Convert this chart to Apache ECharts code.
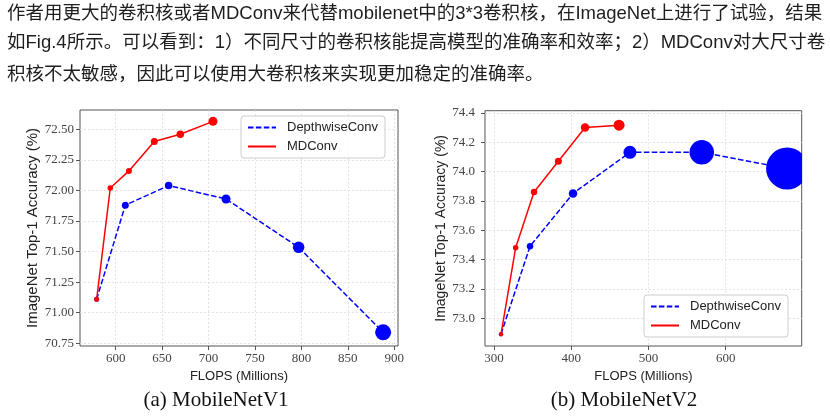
<!DOCTYPE html>
<html>
<head>
<meta charset="utf-8">
<script src="https://cdn.jsdelivr.net/npm/echarts@6/dist/echarts.min.js"></script>
<style>
html,body{margin:0;padding:0;background:#fff;}
#chart{width:830px;height:419px;}
</style>
</head>
<body>
<div id="chart"></div>
<script>
// ---- text ----
const introLines = [
  '作者用更大的卷积核或者MDConv来代替mobilenet中的3*3卷积核，在ImageNet上进行了试验，结果',
  '如Fig.4所示。可以看到：1）不同尺寸的卷积核能提高模型的准确率和效率；2）MDConv对大尺寸卷',
  '积核不太敏感，因此可以使用大卷积核来实现更加稳定的准确率。'
];
const captions = ['(a) MobileNetV1', '(b) MobileNetV2'];
const seriesNames = ['DepthwiseConv', 'MDConv'];
const xAxisName = 'FLOPS (Millions)';
const yAxisName = 'ImageNet Top-1 Accuracy (%)';

// ---- MobileNetV1 data ----
const v1DepthFlops = [579.5, 610.4, 657, 718.8, 797, 888];
const v1DepthAcc   = [71.11, 71.88, 72.04, 71.93, 71.535, 70.84];
const v1MdFlops    = [579.5, 594.2, 614.3, 641.6, 669.6, 704.8];
const v1MdAcc      = [71.11, 72.02, 72.16, 72.40, 72.46, 72.565];

// ---- MobileNetV2 data ----
const v2DepthFlops = [309, 346.6, 402.3, 476, 569, 679.5];
const v2DepthAcc   = [72.89, 73.49, 73.85, 74.13, 74.13, 74.02];
const v2MdFlops    = [309, 328, 351.8, 383.3, 417.9, 461.9];
const v2MdAcc      = [72.89, 73.48, 73.86, 74.07, 74.30, 74.315];

// ---- tick labels ----
const v1XTicks = [600, 650, 700, 750, 800, 850, 900];
const v1YTicks = [70.75, 71.0, 71.25, 71.5, 71.75, 72.0, 72.25, 72.5];
const v2XTicks = [300, 400, 500, 600];
const v2YTicks = [73.0, 73.2, 73.4, 73.6, 73.8, 74.0, 74.2, 74.4];

// ---- marker diameters (style) ----
const v1DepthSize = [5, 7, 7.5, 9, 11.5, 16];
const v1MdSize    = [5, 5.5, 6, 7, 7.5, 9];
const v2DepthSize = [4, 6.5, 8.5, 13, 24.5, 42];
const v2MdSize    = [4.5, 5.5, 6.5, 7, 8.5, 11];

const BLUE = '#0000ff', RED = '#ff0000';
const SANS = '"Liberation Sans", Arial, sans-serif';
const SERIF = '"Liberation Serif", "Times New Roman", serif';
const CJK = '"Liberation Sans", "Noto Sans CJK SC", sans-serif';

function pairs(xs, ys) { return xs.map((x, i) => [x, ys[i]]); }

function markerRenderer(sizes, color) {
  return function (params, api) {
    const p = api.coord([api.value(0), api.value(1)]);
    return {
      type: 'circle',
      shape: { cx: p[0], cy: p[1], r: sizes[params.dataIndex] / 2 },
      style: { fill: color }
    };
  };
}

function xAxisCfg(gi, min, max, ticks) {
  return {
    gridIndex: gi, type: 'value', min: min, max: max,
    axisLine: { show: false },
    axisTick: { show: true, length: 4, customValues: ticks, lineStyle: { color: '#555', width: 1 } },
    axisLabel: { customValues: ticks, margin: 6, fontFamily: SERIF, fontSize: 13, color: '#444',
      formatter: v => String(Math.round(v)) },
    splitLine: { show: true, lineStyle: { color: '#dcdcdc', width: 0.8, type: [2, 2] } },
    name: xAxisName, nameLocation: 'middle', nameGap: 21,
    nameTextStyle: { fontFamily: SANS, fontSize: 13, color: '#222' }
  };
}

function yAxisCfg(gi, min, max, ticks, dec, margin, nameGap, nameSize) {
  return {
    gridIndex: gi, type: 'value', min: min, max: max,
    axisLine: { show: false },
    axisTick: { show: true, length: 4, customValues: ticks, lineStyle: { color: '#555', width: 1 } },
    axisLabel: { customValues: ticks, margin: margin, fontFamily: SERIF, fontSize: 13, color: '#444',
      formatter: v => v.toFixed(dec) },
    splitLine: { show: true, lineStyle: { color: '#dcdcdc', width: 0.8, type: [2, 2] } },
    name: yAxisName, nameLocation: 'middle', nameGap: nameGap,
    nameTextStyle: { fontFamily: SANS, fontSize: nameSize, color: '#222' }
  };
}

function legendCfg(left, top) {
  return {
    orient: 'vertical', left: left, top: top,
    itemWidth: 28, itemHeight: 14, itemGap: 6,
    padding: [5, 7, 5, 6],
    borderColor: '#cccccc', borderWidth: 1, borderRadius: 3,
    backgroundColor: 'rgba(255,255,255,0.85)',
    selectedMode: false,
    itemStyle: { opacity: 0 },
    textStyle: { fontFamily: SANS, fontSize: 13, color: '#222', padding: [0, 0, 0, 6] },
    data: seriesNames
  };
}

function lineSeries(name, gi, data, color, dashed) {
  return {
    name: name, type: 'line', xAxisIndex: gi, yAxisIndex: gi,
    data: data, symbol: 'none', showSymbol: false,
    lineStyle: { color: color, width: 1.5, type: dashed ? [5.5, 2.4] : 'solid' },
    itemStyle: { color: color },
    z: 3, animation: false
  };
}

function markerSeries(name, gi, data, sizes, color, z) {
  return {
    name: name, type: 'custom', xAxisIndex: gi, yAxisIndex: gi,
    data: data, clip: true, encode: { x: 0, y: 1 },
    renderItem: markerRenderer(sizes, color),
    z: z, animation: false
  };
}

const chart = echarts.init(document.getElementById('chart'), null, { renderer: 'canvas' });

const graphics = introLines.map((t, i) => ({
  type: 'text', x: 7, y: [13.8, 43.3, 75][i],
  style: { text: t, font: '18.5px ' + CJK, fill: '#1e1e1e', verticalAlign: 'middle', align: 'left' }
}));
graphics.push({ type: 'text', x: 216, y: 400,
  style: { text: captions[0], font: '21px ' + SERIF, fill: '#111', align: 'center', verticalAlign: 'middle' } });
graphics.push({ type: 'text', x: 624, y: 400,
  style: { text: captions[1], font: '21px ' + SERIF, fill: '#111', align: 'center', verticalAlign: 'middle' } });

chart.setOption({
  animation: false,
  backgroundColor: '#fff',
  graphic: graphics,
  grid: [
    { left: 80, top: 110, width: 318, height: 236, show: true, borderColor: '#555', borderWidth: 1,
      backgroundColor: 'transparent', outerBoundsMode: 'none' },
    { left: 485, top: 110.7, width: 316.7, height: 235.3, show: true, borderColor: '#555', borderWidth: 1,
      backgroundColor: 'transparent', outerBoundsMode: 'none' }
  ],
  xAxis: [
    xAxisCfg(0, 561.6, 904, v1XTicks),
    xAxisCfg(1, 288.3, 698.4, v2XTicks)
  ],
  yAxis: [
    yAxisCfg(0, 70.728, 72.658, v1YTicks, 2, 6, 36, 15),
    yAxisCfg(1, 72.81, 74.414, v2YTicks, 1, 10, 30, 14)
  ],
  legend: [legendCfg(241, 116), legendCfg(644, 295)],
  series: [
    lineSeries(seriesNames[0], 0, pairs(v1DepthFlops, v1DepthAcc), BLUE, true),
    markerSeries('v1-depth-markers', 0, pairs(v1DepthFlops, v1DepthAcc), v1DepthSize, BLUE, 4),
    lineSeries(seriesNames[1], 0, pairs(v1MdFlops, v1MdAcc), RED, false),
    markerSeries('v1-md-markers', 0, pairs(v1MdFlops, v1MdAcc), v1MdSize, RED, 5),

    lineSeries(seriesNames[0], 1, pairs(v2DepthFlops, v2DepthAcc), BLUE, true),
    markerSeries('v2-depth-markers', 1, pairs(v2DepthFlops, v2DepthAcc), v2DepthSize, BLUE, 4),
    lineSeries(seriesNames[1], 1, pairs(v2MdFlops, v2MdAcc), RED, false),
    markerSeries('v2-md-markers', 1, pairs(v2MdFlops, v2MdAcc), v2MdSize, RED, 5)
  ]
});
</script>
</body>
</html>
